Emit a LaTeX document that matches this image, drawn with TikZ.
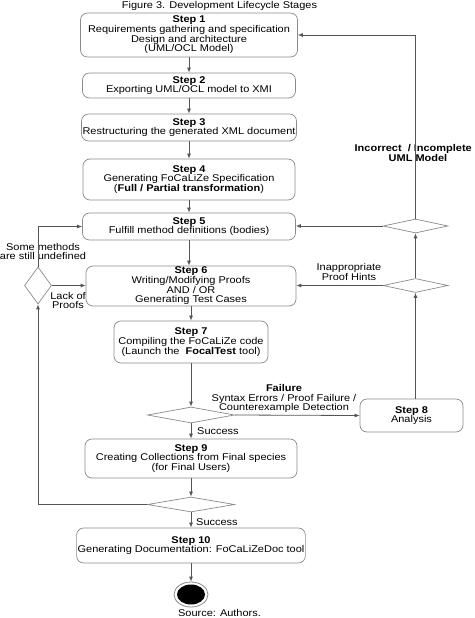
\documentclass[tikz,border=0pt]{standalone}
\usepackage{fontspec}
\setmainfont[FakeStretch=1.12]{Liberation Sans}
\usetikzlibrary{arrows.meta,shapes.geometric,calc}
\definecolor{boxgray}{HTML}{8A8A8A}
\definecolor{linegray}{HTML}{555555}
\newcommand\stepfont{\fontsize{9.8}{9.7}\selectfont}
\tikzset{
  stepbox/.style={draw=boxgray, rounded corners=7pt, align=center, inner sep=1pt, font=\stepfont, line width=0.7pt},
  dec/.style={draw=boxgray, diamond, inner sep=0pt, line width=0.7pt},
  arr/.style={draw=linegray, line width=0.8pt, -{Latex[length=5pt,width=4pt]}},
  lbl/.style={align=center, font=\stepfont, inner sep=0pt},
}
\begin{document}
\begin{tikzpicture}[x=1pt,y=-1pt]
\useasboundingbox (0,0) rectangle (474,618);
\node[lbl] (title) at (219.5,6) {Figure 3. Development Lifecycle Stages};
\node[stepbox, minimum width=217pt, minimum height=44pt] (s1) at (189,35) {\textbf{Step 1}\\Requirements gathering and specification\\Design and architecture\\(UML/OCL Model)};
\node[stepbox, minimum width=213pt, minimum height=25pt] (s2) at (189,85.5) {\textbf{Step 2}\\Exporting UML/OCL model to XMI};
\node[stepbox, minimum width=212pt, minimum height=27pt] (s3) at (189,127.5) {\textbf{Step 3}\\Restructuring the generated XML document};
\node[stepbox, minimum width=212pt, minimum height=41pt] (s4) at (189,179.5) {\textbf{Step 4}\\Generating FoCaLiZe Specification\\(\textbf{Full / Partial transformation})};
\node[stepbox, minimum width=213pt, minimum height=27pt] (s5) at (189,226.5) {\textbf{Step 5}\\Fulfill method definitions (bodies)};
\node[stepbox, minimum width=210pt, minimum height=40pt] (s6) at (191,286) {\textbf{Step 6}\\Writing/Modifying Proofs\\AND / OR\\Generating Test Cases};
\node[stepbox, minimum width=154pt, minimum height=42pt] (s7) at (191,342) {\textbf{Step 7}\\Compiling the FoCaLiZe code\\(Launch the \ \textbf{FocalTest} tool)};
\node[dec, minimum width=87pt, minimum height=16pt] (d1) at (191,415) {};
\node[stepbox, minimum width=103pt, minimum height=33pt] (s8) at (411.5,415.5) {\textbf{Step 8}\\Analysis};
\node[stepbox, minimum width=212pt, minimum height=39pt] (s9) at (191,458.5) {\textbf{Step 9}\\Creating Collections from Final species\\(for Final Users)};
\node[dec, minimum width=87pt, minimum height=15pt] (d2) at (191,504.5) {};
\node[stepbox, minimum width=226pt, minimum height=35pt] (s10) at (191,545.5) {\textbf{Step 10}\\Generating Documentation: FoCaLiZeDoc tool};
\node[ellipse, draw=boxgray, line width=0.8pt, minimum width=34pt, minimum height=25pt] (endo) at (191,594.5) {};
\node[ellipse, fill=black, minimum width=28pt, minimum height=20pt, inner sep=0pt] (endi) at (endo) {};
\node[lbl] (src) at (219.5,613) {Source: Authors.};
\node[dec, minimum width=65pt, minimum height=14pt] (dr5) at (415.5,226) {};
\node[dec, minimum width=65pt, minimum height=14pt] (dr6) at (415.5,285.5) {};
\node[dec, minimum width=27pt, minimum height=37pt] (dl) at (38,285.5) {};
% labels
\node[lbl, anchor=east] (l1a) at (472,148.5) {\textbf{Incorrect \ / Incomplete}};
\node[lbl] (l1b) at (418,158) {\textbf{UML Model}};
\node[lbl] (l2) at (349,272) {Inappropriate\\Proof Hints};
\node[lbl] (l3) at (43,251.5) {Some methods\\are still undefined};
\node[lbl] (l4) at (68,300.5) {Lack of\\Proofs};
\node[lbl] (l5) at (284,398.5) {\textbf{Failure}\\Syntax Errors / Proof Failure /\\Counterexample Detection};
\node[lbl, anchor=west] (l6) at (197,431) {Success};
\node[lbl, anchor=west] (l7) at (196,522) {Success};
% connectors
\draw[arr] (s1.south) -- (s1.south |- s2.north);
\draw[arr] (s2.south) -- (s2.south |- s3.north);
\draw[arr] (s3.south) -- (s3.south |- s4.north);
\draw[arr] (s4.south) -- (s4.south |- s5.north);
\draw[arr] (s5.south) -- (s5.south |- s6.north);
\draw[arr] (s6.south) -- (s6.south |- s7.north);
\draw[arr] (s7.south) -- (d1.north);
\draw[arr] (d1.south) -- (s9.north);
\draw[arr] (d1.east) -- (s8.west);
\draw[arr] (s8.north -| dr6.south) -- (dr6.south);
\draw[arr] (dr6.north) -- (dr5.south);
\draw[arr] (dr6.west) -- (dr6.west -| s6.east);
\draw[arr] (dr5.west) -- (dr5.west -| s5.east);
\draw[arr] (dr5.north) |- (s1.east);
\draw[arr] (s9.south) -- (d2.north);
\draw[arr] (d2.south) -- (s10.north);
\draw[arr] (s10.south) -- (endo.north);
\draw[arr] (d2.west) -| (dl.south);
\draw[arr] (dl.north) |- (s5.west);
\draw[arr] (dl.east) -- (dl.east -| s6.west);
\end{tikzpicture}
\end{document}
